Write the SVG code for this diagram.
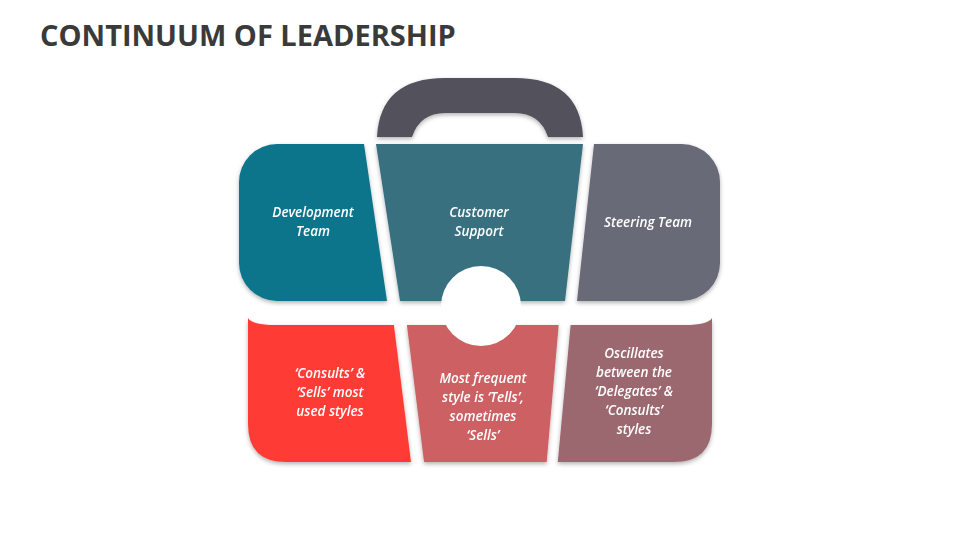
<svg xmlns="http://www.w3.org/2000/svg" width="960" height="540" viewBox="0 0 960 540">
<defs>
<filter id="sh" x="-10%" y="-10%" width="120%" height="130%"><feDropShadow dx="0" dy="2" stdDeviation="2" flood-color="#000" flood-opacity="0.3"/></filter>
<clipPath id="top"><rect x="239" y="144" width="481" height="157" rx="38"/></clipPath>
<clipPath id="bot"><path d="M248,318 Q252,325 275,325 L685,325 Q708,325 712,318 L712,424 Q712,462 674,462 L286,462 Q248,462 248,424 Z"/></clipPath>
</defs>
<style>
.t{font-family:"Open Sans","Liberation Sans",sans-serif;font-style:italic;font-weight:600;font-size:13.5px;fill:#fff;text-anchor:middle}
</style>
<rect width="960" height="540" fill="#fff"/>
<text x="40" y="46" font-family="'Open Sans','Liberation Sans',sans-serif" font-weight="700" font-size="29" fill="#3a3a3a">CONTINUUM OF LEADERSHIP</text>
<g id="handle" filter="url(#sh)"><path d="M377,137 Q380,78 445,78 L515,78 Q580,78 583,137 L548,137 Q540,113 515,113 L445,113 Q420,113 412,137 Z" fill="#52515c"/></g>
<g filter="url(#sh)">
<g id="n1" clip-path="url(#top)"><polygon points="230,144 364,144 387,301 230,301" fill="#0b748b"/></g>
<g id="n2" clip-path="url(#top)"><polygon points="376,144 583,144 565,301 400,301" fill="#376f80"/></g>
<g id="n3" clip-path="url(#top)"><polygon points="594,144 730,144 730,301 577,301" fill="#696a78"/></g>
<g id="n4" clip-path="url(#bot)"><polygon points="240,310 392,310 412,470 240,470" fill="#fe3b36"/></g>
<g id="n5" clip-path="url(#bot)"><polygon points="405,310 560,310 546,470 425,470" fill="#cd6064"/></g>
<g id="n6" clip-path="url(#bot)"><polygon points="572,310 720,310 720,470 557,470" fill="#9c6870"/></g>
</g>
<circle cx="481" cy="306" r="40" fill="#fff"/>
<g id="labels">
<text class="t" x="313" y="217">Development</text><text class="t" x="313" y="236">Team</text>
<text class="t" x="479" y="217">Customer</text><text class="t" x="479" y="236">Support</text>
<text class="t" x="648" y="227">Steering Team</text>
<text class="t" x="330" y="378">‘Consults’ &amp;</text><text class="t" x="330" y="397">‘Sells’ most</text><text class="t" x="330" y="416">used styles</text>
<text class="t" x="483" y="383">Most frequent</text><text class="t" x="483" y="402">style is ‘Tells’,</text><text class="t" x="483" y="421">sometimes</text><text class="t" x="483" y="440">‘Sells’</text>
<text class="t" x="634" y="358">Oscillates</text><text class="t" x="634" y="377">between the</text><text class="t" x="634" y="396">‘Delegates’ &amp;</text><text class="t" x="634" y="415">‘Consults’</text><text class="t" x="634" y="434">styles</text>
</g>
</svg>
